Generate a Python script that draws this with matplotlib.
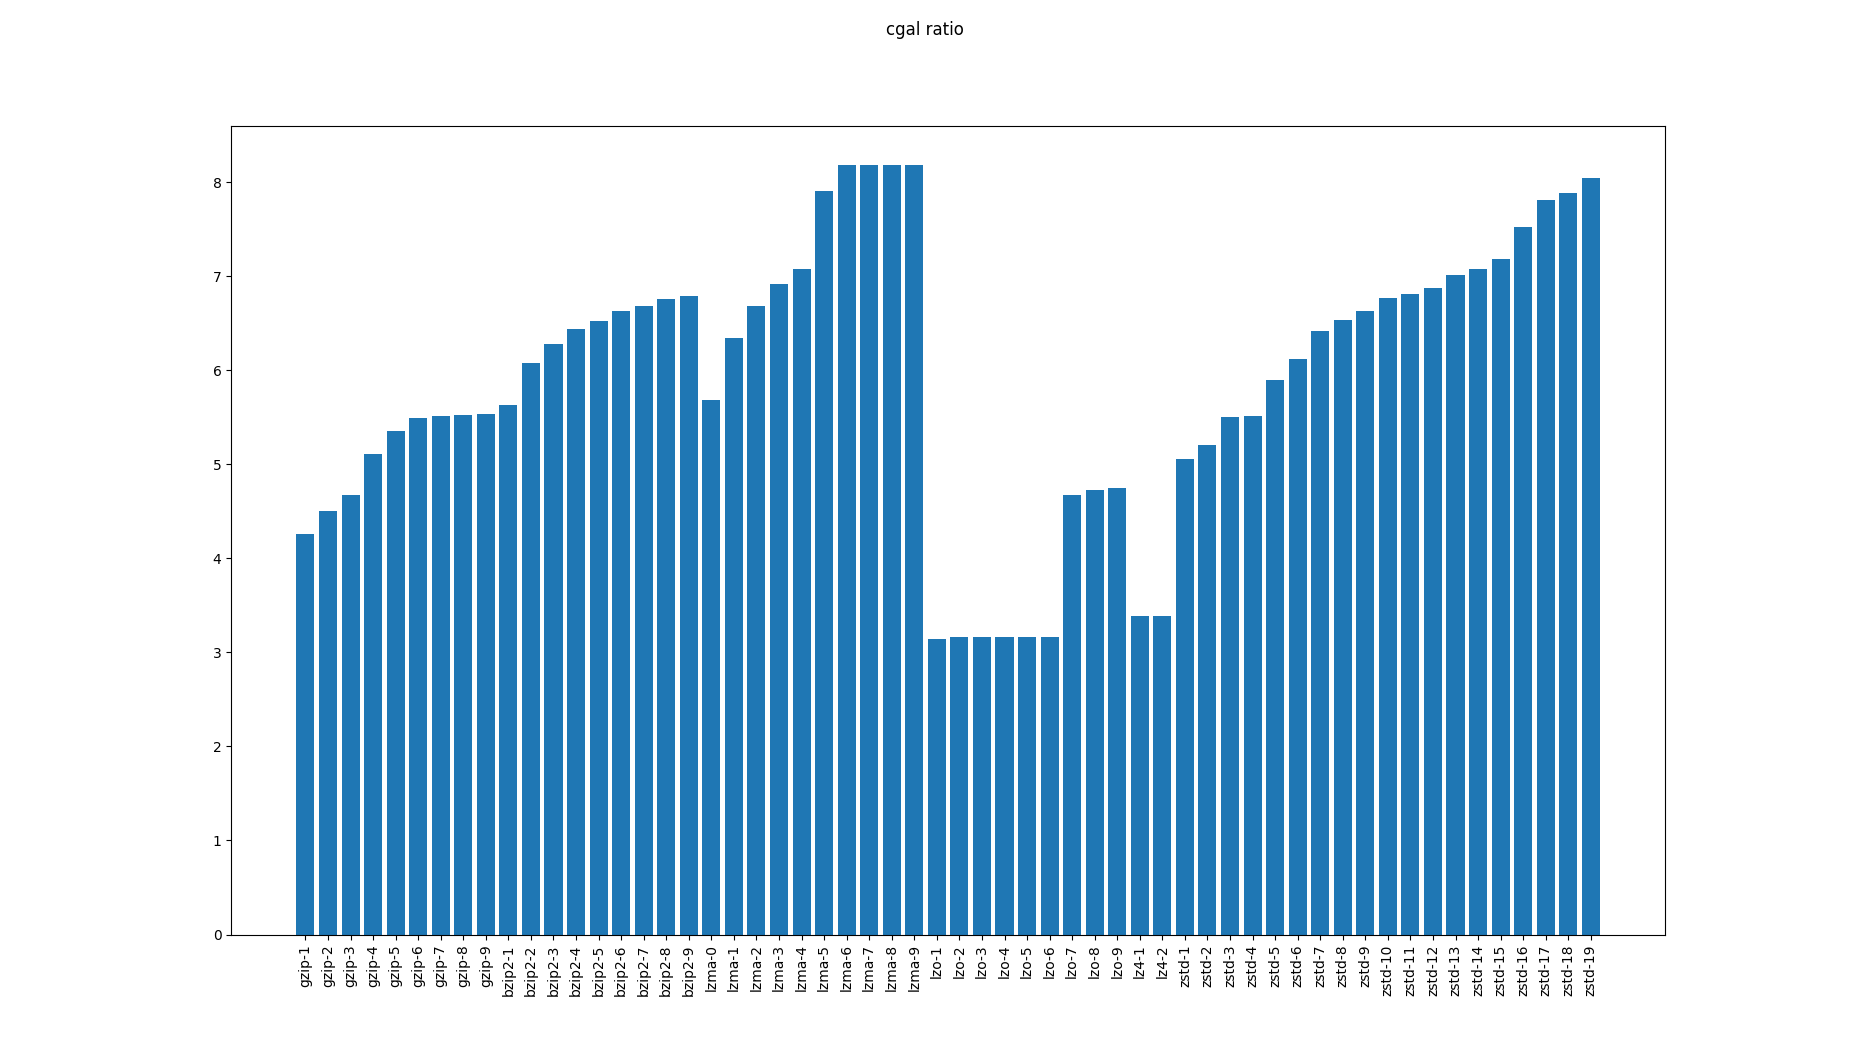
import matplotlib

matplotlib.use("Agg")
import matplotlib.pyplot as plt

labels = (
    [f"gzip-{i}" for i in range(1, 10)]
    + [f"bzip2-{i}" for i in range(1, 10)]
    + [f"lzma-{i}" for i in range(0, 10)]
    + [f"lzo-{i}" for i in range(1, 10)]
    + ["lz4-1", "lz4-2"]
    + [f"zstd-{i}" for i in range(1, 20)]
)

gzip_ratio = [4.26, 4.50, 4.67, 5.11, 5.36, 5.49, 5.51, 5.53, 5.54]
bzip2_ratio = [5.63, 6.08, 6.28, 6.44, 6.53, 6.63, 6.68, 6.76, 6.79]
lzma_ratio = [5.68, 6.34, 6.69, 6.92, 7.08, 7.91, 8.19, 8.19, 8.19, 8.19]
lzo_ratio = [3.14, 3.16, 3.16, 3.16, 3.16, 3.16, 4.68, 4.73, 4.75]
lz4_ratio = [3.39, 3.39]
zstd_ratio = [5.06, 5.21, 5.50, 5.51, 5.90, 6.12, 6.42, 6.54, 6.63, 6.77,
              6.81, 6.88, 7.01, 7.08, 7.18, 7.52, 7.81, 7.89, 8.05]

ratios = gzip_ratio + bzip2_ratio + lzma_ratio + lzo_ratio + lz4_ratio + zstd_ratio

fig, ax = plt.subplots(figsize=(18.5, 10.5), dpi=100)
ax.bar(labels, ratios)
ax.tick_params(axis="x", labelrotation=90)
fig.suptitle("cgal ratio")

fig.savefig("out.png")
